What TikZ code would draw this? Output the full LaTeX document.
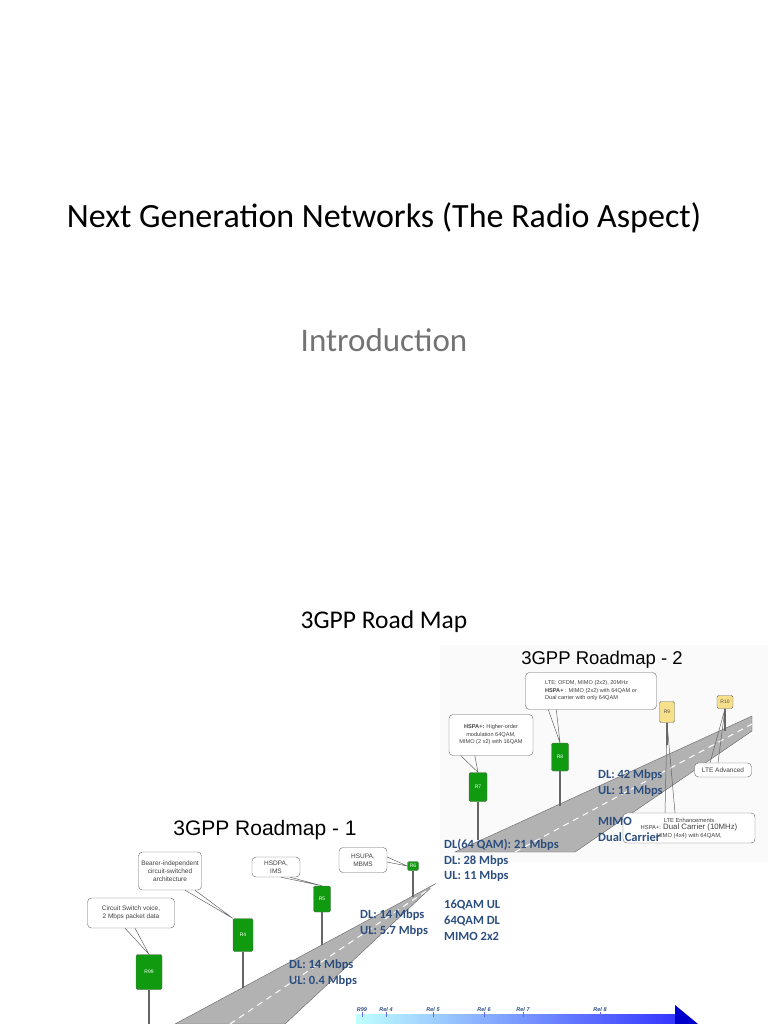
\documentclass[tikz,border=0pt]{standalone}
\usepackage{fontspec}
\setmainfont{Carlito}
\newfontfamily\arl{Liberation Sans}
\usetikzlibrary{shapes.callouts}
\definecolor{sg}{HTML}{109A10}
\definecolor{sy}{HTML}{F7E08C}
\definecolor{nv}{HTML}{2B4E7E}
\begin{document}
\begin{tikzpicture}[x=1pt,y=-1pt,
 sign/.style={draw=black!60,fill=sg,rounded corners=1.5pt,text=white,font=\arl\fontsize{5}{6}\selectfont,inner sep=0pt},
 ysign/.style={sign,fill=sy,text=black!70},
 pole/.style={draw=black!60,line width=1.3pt},
 box/.style={draw=black!60,fill=white,rounded corners=4pt,align=center,font=\arl\fontsize{6.5}{8}\selectfont,text=black!75,inner sep=2pt},
 ptr/.style={draw=black!60,line width=0.5pt},
 road/.style={fill=black!30,draw=black!60,line width=0.4pt},
 mid/.style={draw=white,dash pattern=on 6pt off 5pt,line width=1pt},
 blu/.style={font=\bfseries\fontsize{12.5}{15.7}\selectfont,text=nv,align=left,anchor=north west,inner sep=0pt},
 rel/.style={font=\arl\bfseries\itshape\fontsize{5.5}{6}\selectfont,text=nv,inner sep=0pt}]
\useasboundingbox (0,0) rectangle (768,1024);
\node (t1) at (384,218) {\fontsize{34}{38}\selectfont Next Generation Networks (The Radio Aspect)};
\node[text=black!55] (t2) at (384,340) {\fontsize{33}{36}\selectfont Introduction};
\node (t3) at (384,622) {\fontsize{25.5}{28}\selectfont 3GPP Road Map};
\fill[black!2] (440,645) rectangle (768,862);
\node[font=\arl\fontsize{18.5}{20}\selectfont] (rm2) at (602,660) {3GPP Roadmap - 2};
\node[font=\arl\fontsize{21}{22}\selectfont] (rm1) at (265,830) {3GPP Roadmap - 1};
% roads
\path[road] (175,1024) -- (435,884) -- (285,1024) -- cycle;
\draw[mid] (230,1024) -- (435,885);
\path[road] (455,852) -- (752,716) -- (752,731) -- (575,852) -- cycle;
\draw[mid] (515,852) -- (752,724);
% poles
\coordinate (p1) at (149,1024); \coordinate (p2) at (243,988);
\coordinate (p3) at (322,945); \coordinate (p4) at (413,897);
\coordinate (p5) at (478,840); \coordinate (p6) at (560,806);
\coordinate (p7) at (667,745); \coordinate (p8) at (725,731);
\node[sign,minimum width=26pt,minimum height=35pt] (r99) at (149,972) {R99};
\node[sign,minimum width=20pt,minimum height=33pt] (r4) at (243,935) {R4};
\node[sign,minimum width=17pt,minimum height=26pt] (r5) at (322,899) {R5};
\node[sign,minimum width=11pt,minimum height=9pt] (r6) at (413,866) {R6};
\node[sign,minimum width=18pt,minimum height=29pt] (r7) at (478,787) {R7};
\node[sign,minimum width=17pt,minimum height=28pt] (r8) at (560,757) {R8};
\node[ysign,minimum width=15pt,minimum height=21pt] (r9) at (667,712) {R9};
\node[ysign,minimum width=16pt,minimum height=13pt] (r10) at (725,702) {R10};
\foreach \s/\p in {r99/p1,r4/p2,r5/p3,r6/p4,r7/p5,r8/p6,r9/p7,r10/p8} \draw[pole] (\s.south) -- (\p);
% callouts
\node[box,minimum width=87pt,minimum height=30pt] (c1) at (131,913) {Circuit Switch voice,\\2 Mbps packet data};
\draw[ptr] ([xshift=-6pt]c1.south) -- (r99.north) -- ([xshift=4pt]c1.south);
\node[box,minimum width=63pt,minimum height=38pt] (c2) at (170,871) {Bearer-independent\\circuit-switched\\architecture};
\draw[ptr] ([xshift=15pt]c2.south) -- (r4.north west) -- ([xshift=25pt]c2.south);
\node[box,minimum width=48pt,minimum height=20pt] (c3) at (276,867) {HSDPA,\\IMS};
\draw[ptr] ([xshift=5pt]c3.south) -- (r5.north) -- ([xshift=14pt]c3.south);
\node[box,minimum width=48pt,minimum height=25pt] (c4) at (363,860) {HSUPA,\\MBMS};
\draw[ptr] ([yshift=3pt]c4.east) -- (r6.west) -- ([yshift=-2pt]c4.east);
\node[box,minimum width=84pt,minimum height=41pt,font=\arl\fontsize{5.6}{7.5}\selectfont] (c5) at (491,735) {\textbf{HSPA+:} Higher-order\\modulation 64QAM,\\MIMO (2 x2) with 16QAM};
\draw[ptr] ([xshift=12pt]c5.south west) -- (r7.north) -- ([xshift=26pt]c5.south west);
\node[box,minimum width=131pt,minimum height=37pt,align=left,font=\arl\fontsize{5.6}{7.5}\selectfont] (c6) at (591,691) {LTE: OFDM, MIMO (2x2), 20MHz\\\textbf{HSPA+} : MIMO (2x2) with 64QAM or\\Dual carrier with only 64QAM};
\draw[ptr] ([xshift=23pt]c6.south west) -- (r8.north) -- ([xshift=31pt]c6.south west);
\node[box,minimum width=132pt,minimum height=30pt,font=\arl\fontsize{5.8}{7.5}\selectfont] (c7) at (689,828) {LTE Enhancements\\HSPA+: {\fontsize{7.8}{8}\selectfont Dual Carrier (10MHz)}\\MIMO (4x4) with 64QAM,};
\draw[ptr] ([xshift=-24pt]c7.north) -- (r9.south) -- ([xshift=-14pt]c7.north);
\node[box,minimum width=57pt,minimum height=14pt] (c8) at (723,770) {LTE Advanced};
\draw[ptr] ([xshift=-13pt]c8.north) -- (r10.south) -- ([xshift=-5pt]c8.north);
% blue texts
\node[blu] (b1) at (598,770) {DL: 42 Mbps\\UL: 11 Mbps};
\node[blu] (b2) at (598,817) {MIMO\\Dual Carrier};
\node[blu] (b3) at (444,839) {DL(64 QAM): 21 Mbps\\DL: 28 Mbps\\UL: 11 Mbps};
\node[blu] (b4) at (444,900) {16QAM UL\\64QAM DL\\MIMO 2x2};
\node[blu] (b5) at (360,910) {DL: 14 Mbps\\UL: 5.7 Mbps};
\node[blu] (b6) at (289,960) {DL: 14 Mbps\\UL: 0.4 Mbps};
% bottom strip
\shade[left color=cyan!25,right color=blue!80] (356,1014) rectangle (680,1024);
\fill[blue!80!black] (675,1005) -- (698,1024) -- (675,1024) -- cycle;
\foreach \n/\x/\l in {a/362/R99,b/386/Rel 4,c/433/Rel 5,d/484/Rel 6,e/523/Rel 7,f/600/Rel 8}
 {\node[rel] (q\n) at (\x,1010) {\l}; \draw[blue!60,line width=0.3pt] (q\n.south) -- ++(0,5);}
\end{tikzpicture}
\end{document}
